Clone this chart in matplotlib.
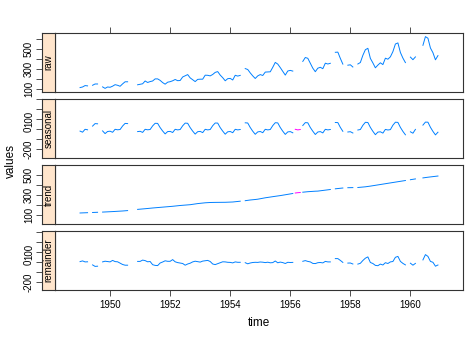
import numpy as np
import matplotlib.pyplot as plt
from matplotlib.ticker import MultipleLocator, FuncFormatter

plt.rcParams['font.family'] = ['Liberation Sans', 'DejaVu Sans']

nan = np.nan

# monthly series, Jan 1949 .. Dec 1960 (one row per year)
raw = [
    112, 118, 132, 129, nan, 135, 148, 148, nan, 119, 104, 118,
    115, 126, 141, 135, 125, 149, 170, 170, nan, nan, nan, 140,
    145, 150, 178, 163, 172, 178, 199, 199, 184, 162, 146, 166,
    171, 180, 193, 181, 183, 218, 230, 242, 209, 191, 172, 194,
    196, 196, 236, 235, 229, 243, 264, 272, 237, 211, 180, 201,
    204, 188, 235, 227, 234, nan, 302, 293, 259, 229, 203, 229,
    242, 233, 267, 269, 270, 315, 364, 347, 312, 274, 237, 278,
    284, 277, nan, nan, nan, 374, 413, 405, 355, 306, 271, 306,
    315, 301, 356, 348, 355, nan, 465, 467, 404, 347, nan, 336,
    340, 318, nan, 348, 363, 435, 491, 505, 404, 359, 310, 337,
    360, 342, 406, 396, 420, 472, 548, 559, 463, 407, 362, nan,
    417, 391, 419, nan, nan, 535, 622, 606, 508, 461, 390, 432,
]

seasonal = [
    -20, -31, -2, -7, -4, 30, 55, 53, 14, -18, -45, -24,
    -21, -32, -2, -7, -4, 31, 57, 55, 14, -19, -47, -25,
    -22, -33, -2, -7, -4, 32, 58, 57, 15, -19, -48, -25,
    -23, -34, -2, -8, -4, 33, 60, 58, 15, -20, -50, -26,
    -23, -35, -2, -8, -4, 34, 61, 60, 15, -20, -51, -27,
    -24, -36, -2, -8, -4, 35, 63, 61, 16, -21, -52, -28,
    -24, -36, -2, -8, -4, 35, 64, 62, 16, -21, -53, -28,
    -25, -37, -2, -8, -4, 36, 65, 63, 16, -21, -54, -29,
    -25, -38, -2, -8, -4, 37, 66, 65, 17, -22, -55, -29,
    -26, -39, -2, -9, -4, 38, 68, 66, 17, -22, -56, -30,
    -27, -40, -3, -9, -5, 39, 69, 67, 17, -23, -57, -30,
    -27, -41, -3, -9, -5, 40, 70, 69, 18, -23, -58, -31,
]

trend = [
    119, 120, 121, 122, 123, 124, 125, 126, 127, 128, 129, 130,
    131, 133, 135, 136, 137, 139, 141, 143, 146, 148, 152, 155,
    157, 160, 162, 164, 167, 169, 171, 174, 175, 177, 178, 180,
    183, 186, 189, 191, 194, 196, 198, 200, 202, 206, 210, 213,
    216, 218, 221, 223, 224, 225, 225, 225, 225, 225, 226, 227,
    228, 229, 232, 234, 237, 240, 242, 246, 249, 251, 254, 257,
    262, 267, 271, 275, 278, 282, 286, 289, 293, 297, 301, 305,
    310, 314, 319, 322, 324, 327, 330, 332, 334, 337, 337, 338,
    341, 344, 348, 351, 354, 358, 361, 364, 367, 369, 371, 372,
    372, 373, 373, 374, 376, 378, 381, 384, 388, 392, 396, 400,
    404, 408, 412, 416, 420, 424, 428, 432, 436, 440, 444, 448,
    452, 456, 460, 463, 466, 470, 474, 477, 480, 483, 486, 489,
]

remainder = [
    8, 15, 5, 6, 0, -25, -40, -38, -8, 5, 12, 8,
    5, 20, 8, 6, -8, -21, -28, -28, -2, 4, 9, 10,
    10, 23, 18, 6, 9, -23, -30, -32, -6, 4, 16, 11,
    11, 28, 6, -2, -7, -11, -28, -16, -8, 5, 12, 7,
    3, 13, 17, 20, 9, -16, -22, -13, -3, 6, 5, 1,
    0, -5, 5, 1, 1, -11, -3, -14, -6, -1, 1, 0,
    4, 2, -2, 2, -4, -2, 14, -4, 3, -2, -11, 1,
    -1, 0, 0, -1, -2, 11, 18, 10, 5, -10, -12, -3,
    -1, -5, 10, 5, 5, 27, 38, 38, 20, 0, -11, -7,
    -6, -16, -9, -17, -9, 19, 42, 55, -1, -11, -30, -33,
    -17, -26, -3, -11, 5, 9, 51, 60, 10, -10, -25, -13,
    -8, -28, -10, 7, 11, 25, 78, 60, 10, 1, -38, -26,
]

# months where the fitted components are drawn in the second colour
filled_idx = [86, 87, 88]

panel_names = ['raw', 'seasonal', 'trend', 'remainder']
panel_series = [raw, seasonal, trend, remainder]
shown_labels = [[100, 300, 500], [-200, 0, 100], [100, 300, 500], [-200, 0, 100]]
year_ticks = [1950, 1952, 1954, 1956, 1958, 1960]

t = 1949 + np.arange(144) / 12.0
missing = np.isnan(np.array(raw, dtype=float))

W, H = 474, 338
fig = plt.figure(figsize=(W / 100, H / 100), dpi=100)
fig.patch.set_facecolor('white')

def px_axes(x0, y0, x1, y1):
    return fig.add_axes([x0 / W, 1 - y1 / H, (x1 - x0) / W, (y1 - y0) / H])

blue = '#0080ff'
pink = '#ff00ff'
frame = '#333333'

span = t[-1] - t[0]
xlim = (t[0] - 0.07 * span, t[-1] + 0.07 * span)

raw_arr = np.array(raw, dtype=float)
rng = (np.nanmax(raw_arr) - np.nanmin(raw_arr)) * 1.14

tops = [33, 99, 165, 231]
ph = 59
for i, (name, vals) in enumerate(zip(panel_names, panel_series)):
    y0 = tops[i]
    y1 = y0 + ph
    ax = px_axes(55, y0, 463, y1)
    v = np.array(vals, dtype=float)
    v_plot = v.copy()
    v_plot[missing] = np.nan
    ax.plot(t, v_plot, color=blue, lw=0.7)
    if name in ('seasonal', 'trend'):
        ax.plot(t[filled_idx], v[filled_idx], color=pink, lw=0.7)
    mid = (np.nanmin(v_plot) + np.nanmax(v_plot)) / 2
    ylim = (mid - rng / 2, mid + rng / 2)
    ax.set_xlim(*xlim)
    ax.set_ylim(*ylim)
    ax.set_yticks([])

    ax.set_xticks(year_ticks)
    if i == 0:
        ax.tick_params(axis='x', top=True, bottom=False, labelbottom=False,
                       direction='out', length=4.3, width=0.6, color=frame)
    elif i == 3:
        ax.tick_params(axis='x', top=False, bottom=True, labelbottom=True,
                       direction='out', length=4.3, width=0.6, color=frame,
                       labelsize=7, pad=3)
    else:
        ax.tick_params(axis='x', top=False, bottom=False, labelbottom=False)
    for sp in ax.spines.values():
        sp.set_color(frame)
        sp.set_linewidth(0.8)

    # strip on the left, carrying the y axis
    sx = px_axes(42, y0, 55, y1)
    sx.set_facecolor('#ffe5cc')
    sx.set_xticks([])
    sx.set_ylim(*ylim)
    sx.yaxis.set_major_locator(MultipleLocator(100))
    keep = shown_labels[i]
    sx.yaxis.set_major_formatter(FuncFormatter(
        lambda val, pos, keep=keep: f'{int(round(val))}' if int(round(val)) in keep else ''))
    sx.tick_params(axis='y', direction='out', length=4.3, width=0.6, color=frame,
                   labelsize=7, pad=1.5, labelrotation=90, right=False)
    for lab in sx.get_yticklabels():
        lab.set_va('center')
    for sp in sx.spines.values():
        sp.set_color(frame)
        sp.set_linewidth(0.8)
    sx.text(0.5, 0.5, name, rotation=90, ha='center', va='center',
            fontsize=7, transform=sx.transAxes)

fig.text(11 / W, 1 - 161.5 / H, 'values', rotation=90, ha='center', va='center', fontsize=8.5)
fig.text(259 / W, 1 - 323 / H, 'time', ha='center', va='center', fontsize=8.5)

fig.savefig('out.png', dpi=100)
